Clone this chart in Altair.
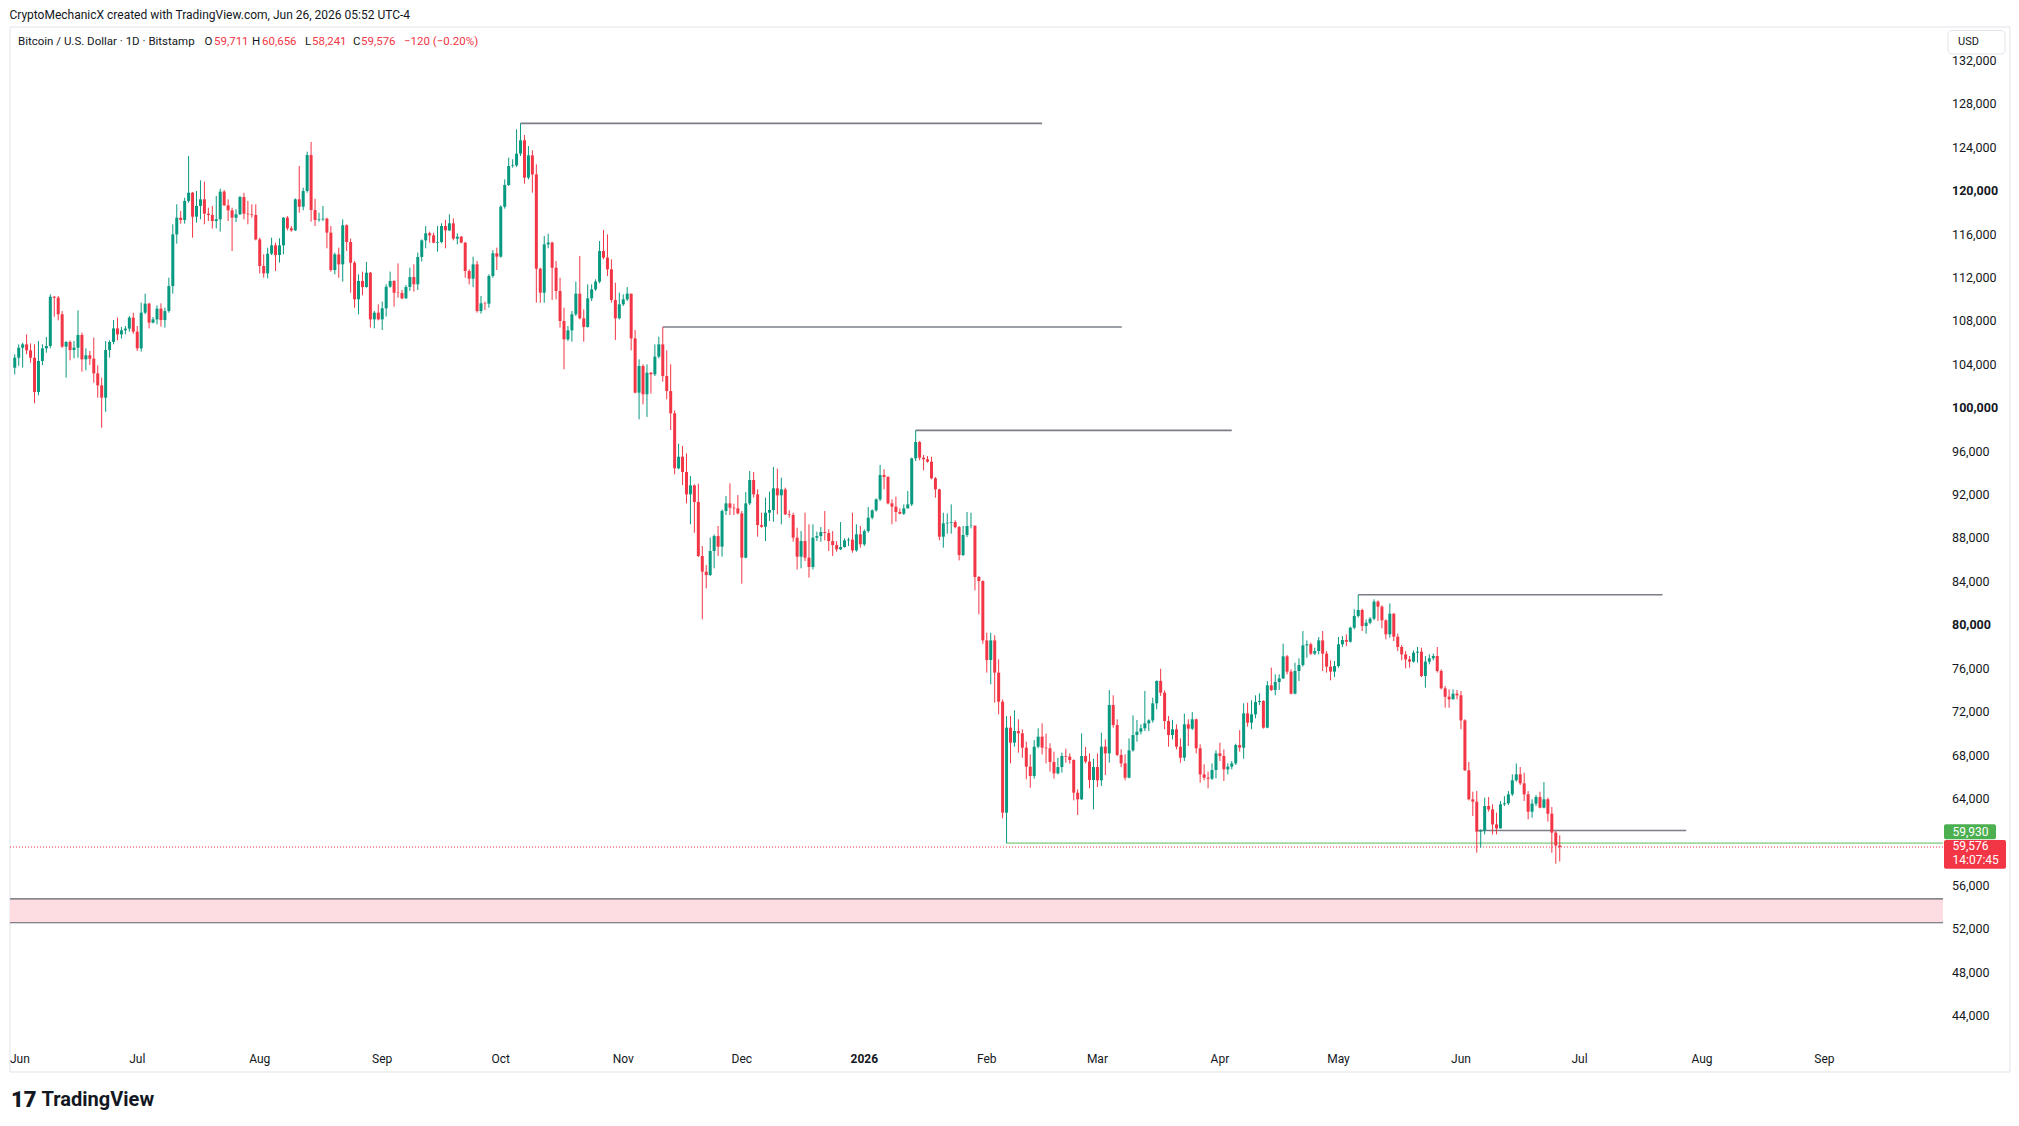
import altair as alt
import pandas as pd

# ---------------- data ----------------
START_DATE = "2025-05-31"
FIRST_OPEN = 103730

CLOSE = [
    104650, 105570, 105880, 105330, 104650, 101490, 104350, 105510, 105730, 110270,
    110180, 108650, 105670, 106100, 105360, 105570, 106740, 104500, 104870, 104560,
    103210, 102100, 100970, 105360, 106100, 107350, 106800, 107170, 107330, 108340,
    107050, 105510, 108800, 109630, 107880, 108180, 109170, 108120, 108950, 111250,
    116010, 117550, 117340, 119090, 119850, 117640, 118630, 119240, 117920, 117800,
    117240, 117400, 119950, 118690, 118230, 117550, 117860, 119450, 117920, 117860,
    117800, 115550, 113100, 112420, 114230, 115000, 114110, 115000, 117550, 116570,
    116380, 119240, 118560, 120010, 123320, 118260, 117340, 117400, 117460, 116170,
    112730, 114170, 113250, 116850, 115310, 113400, 110030, 111720, 111160, 112480,
    108180, 108800, 108180, 109200, 111190, 111720, 110640, 110610, 110120, 111160,
    112080, 111410, 113930, 115460, 116110, 115920, 115250, 115310, 116780, 116380,
    117030, 115620, 115800, 115250, 112640, 111930, 113250, 108950, 109660, 109630,
    112180, 114270, 113960, 118560, 120560, 122310, 122370, 123450, 124680, 121240,
    123290, 121540, 112850, 110640, 115090, 115250, 112940, 110800, 108030, 106340,
    107170, 108650, 110550, 108280, 107480, 110120, 110950, 111660, 114480, 113870,
    112790, 109970, 108280, 109570, 110030, 110550, 106430, 101430, 103890, 101280,
    103270, 103120, 104750, 105880, 102960, 101580, 99530, 94460, 95530, 94120,
    92060, 92890, 91360, 86380, 84940, 84630, 86840, 88220, 87240, 90530,
    91230, 90830, 90770, 90310, 86230, 91230, 93380, 92060, 89240, 89080,
    90370, 90620, 92620, 91970, 92520, 90220, 90160, 88070, 86320, 87760,
    86230, 85370, 88070, 88220, 88590, 88500, 87760, 87390, 87000, 87210,
    87820, 87890, 86900, 88380, 87460, 88680, 89910, 90590, 91600, 93840,
    93660, 91230, 90930, 90440, 90280, 90770, 91140, 95380, 96880, 95440,
    95290, 95070, 93540, 92520, 88160, 89390, 89450, 89510, 89050, 86470,
    88320, 89150, 89180, 84450, 84080, 78610, 76800, 78610, 75640, 72960,
    62740, 70570, 69190, 70260, 70050, 68730, 66980, 66120, 68820, 69740,
    68730, 68670, 67410, 66360, 66940, 67960, 67900, 67590, 64580, 63970,
    67960, 67440, 65750, 66940, 65720, 68820, 68200, 72660, 70810, 68050,
    67280, 65960, 68480, 69890, 70200, 70510, 70970, 71240, 72810, 74870,
    73790, 71180, 69890, 70420, 68820, 67800, 70880, 70480, 71340, 68670,
    66270, 65960, 65870, 66670, 68200, 67960, 66730, 66980, 67280, 68970,
    68730, 71890, 71030, 71800, 72930, 73030, 70570, 74470, 74040, 74780,
    75110, 77140, 75730, 73700, 75790, 76340, 78150, 78250, 77390, 77630,
    78610, 77390, 76190, 75730, 76250, 78250, 78640, 78490, 79780, 80860,
    81410, 79930, 80240, 80610, 82180, 81720, 80460, 79170, 81070, 78950,
    78000, 77320, 76860, 76650, 77480, 77570, 75330, 76650, 76960, 77170,
    75790, 74190, 73420, 73180, 73700, 73550, 71240, 66640, 63970, 63750,
    60990, 61050, 63350, 63040, 61660, 61290, 63510, 63600, 64430, 65720,
    66270, 65440, 64430, 62830, 63570, 64180, 63200, 63970, 62640, 60900,
    59711, 59576,
]

HIGH = [
    104960, 105880, 106030, 106800, 105970, 105880, 106190, 105880, 106560, 110490,
    110330, 110330, 108950, 106190, 106250, 106190, 109010, 106960, 105510, 105270,
    106500, 103950, 102810, 106190, 106250, 108120, 108340, 107480, 107570, 108490,
    108800, 107570, 109720, 110550, 109720, 108400, 109470, 109660, 109260, 112020,
    116940, 118780, 118170, 119390, 123230, 119920, 120010, 120990, 120870, 118470,
    118630, 119550, 120220, 120100, 119240, 118470, 118320, 119550, 119850, 119090,
    118780, 118780, 115710, 114170, 114790, 115710, 115250, 115650, 117610, 117700,
    116780, 119330, 122310, 120320, 123630, 124520, 119300, 118010, 118630, 117550,
    116780, 114330, 114790, 117400, 116940, 115620, 113560, 112330, 112580, 113470,
    112550, 108950, 109570, 109810, 111410, 112580, 111780, 113340, 110890, 111350,
    112940, 113250, 114330, 115550, 116780, 116260, 116170, 116780, 117030, 117340,
    117860, 117490, 116110, 115860, 115310, 112790, 113960, 113560, 110330, 109810,
    112330, 114570, 114790, 118690, 121080, 123080, 122930, 125690, 126240, 125170,
    124150, 123750, 122460, 112940, 115860, 116080, 115340, 113560, 112020, 109260,
    107570, 108950, 111660, 114020, 109100, 111410, 111410, 111870, 115400, 116410,
    116010, 113710, 111560, 110640, 110490, 111160, 110550, 107200, 104500, 104040,
    104040, 103330, 105880, 106590, 107480, 105330, 104040, 99800, 96730, 96520,
    95840, 93750, 92980, 93050, 87300, 85550, 88070, 88380, 89150, 90680,
    91910, 93080, 91200, 92000, 90530, 92280, 94210, 94120, 92520, 90370,
    91760, 92310, 94580, 94430, 93600, 92680, 90590, 90370, 88990, 88680,
    90370, 89300, 89300, 88620, 89050, 90530, 88840, 88680, 87760, 89510,
    88010, 88070, 90370, 89300, 89150, 88840, 90900, 90680, 91690, 94770,
    94370, 93750, 91600, 91850, 90770, 91140, 92370, 95440, 97960, 96980,
    95690, 95590, 95530, 93660, 92580, 90370, 90310, 91140, 89670, 89150,
    89150, 90430, 90370, 89180, 84540, 84140, 79320, 79320, 79080, 76860,
    73180, 71640, 71640, 72170, 71340, 70420, 69280, 68110, 69430, 70510,
    70970, 70020, 69130, 68360, 67800, 68270, 68630, 68200, 67650, 64890,
    70050, 68790, 68200, 67710, 68200, 70110, 69490, 74040, 73550, 71340,
    68570, 68110, 69590, 71700, 71280, 70880, 73950, 71340, 73330, 74930,
    76000, 74010, 71640, 71280, 70880, 69590, 71860, 71340, 72010, 71400,
    69030, 67190, 66520, 67280, 68480, 69190, 68570, 67280, 67500, 69090,
    70350, 72810, 72870, 73090, 73550, 73730, 73090, 74870, 76100, 75480,
    75480, 78310, 77260, 75940, 76560, 76960, 79470, 78610, 78400, 77940,
    78920, 79470, 77630, 76770, 76710, 78920, 79010, 79170, 79870, 81470,
    82820, 81530, 80550, 80760, 82390, 82300, 81840, 80550, 82020, 81100,
    79230, 78180, 77630, 77170, 77690, 78000, 77940, 77170, 77320, 77390,
    78000, 75940, 74410, 74100, 74100, 74040, 73950, 71340, 67410, 64670,
    64730, 61200, 64120, 64180, 63510, 62740, 63810, 64270, 64730, 66270,
    67280, 66940, 66420, 64730, 63970, 64370, 64670, 65560, 64120, 63260,
    61050, 60656,
]

LOW = [
    103120, 103890, 103730, 104960, 104190, 100450, 101180, 103980, 105110, 105510,
    108430, 108090, 105570, 102810, 104410, 104590, 104650, 103360, 103490, 103980,
    102350, 100970, 98200, 99680, 104650, 105880, 106250, 106400, 106800, 107050,
    106860, 105270, 105210, 108650, 107350, 107820, 107720, 107510, 107420, 108800,
    110550, 115160, 117000, 117000, 118930, 115710, 117090, 117400, 116940, 117240,
    116540, 116570, 116260, 118630, 117240, 114480, 117150, 117800, 117400, 116940,
    117550, 115460, 112420, 112020, 111960, 114110, 112640, 113410, 114170, 116380,
    116260, 116320, 118010, 118230, 119850, 117180, 116780, 117180, 117240, 114730,
    112580, 112330, 112020, 111660, 114480, 110640, 109260, 108650, 110400, 111100,
    107420, 107350, 108090, 107200, 108430, 111100, 109350, 110180, 110030, 110090,
    110800, 110730, 110890, 113500, 114730, 115250, 115190, 114420, 115190, 114730,
    116320, 115460, 115090, 115190, 112020, 111410, 111160, 108800, 108710, 109040,
    109260, 112020, 112730, 113870, 118380, 120470, 122160, 122220, 123230, 120680,
    121080, 119850, 109720, 109720, 109720, 114730, 109970, 110030, 107420, 103580,
    106190, 106130, 108490, 108180, 106130, 107420, 109870, 110800, 111500, 113720,
    112180, 109720, 106280, 108180, 109410, 109870, 105330, 101370, 98970, 100350,
    99190, 101340, 102960, 104590, 102440, 100820, 97990, 93910, 94370, 92920,
    91230, 89300, 88530, 86290, 80550, 83400, 84540, 85250, 86380, 86320,
    90160, 90160, 90160, 90220, 83830, 86170, 91080, 91760, 88160, 88990,
    87760, 89610, 89540, 90220, 89300, 90160, 89910, 87700, 85150, 85250,
    85920, 84390, 85150, 87760, 87700, 87820, 86840, 86380, 86780, 86930,
    87150, 87300, 86690, 86780, 87150, 87300, 88530, 89760, 90470, 91450,
    92520, 91140, 89300, 89540, 90220, 90160, 90770, 90990, 95130, 95200,
    94270, 94980, 93450, 91760, 87820, 87150, 88440, 88440, 88930, 85980,
    86380, 88130, 88930, 83220, 81010, 78300, 75640, 74560, 72870, 71800,
    62220, 59930, 67280, 68820, 68270, 67800, 65810, 65040, 65870, 68670,
    68110, 67280, 66520, 65870, 66270, 66420, 67340, 67250, 63870, 62520,
    63910, 67280, 64980, 63040, 65100, 65190, 66210, 67340, 70570, 67960,
    66940, 65720, 65900, 68360, 69280, 69950, 70260, 70260, 71030, 72260,
    73490, 70420, 68820, 69490, 68570, 67340, 67500, 68880, 70350, 68200,
    65500, 65720, 64980, 65750, 65900, 67500, 65660, 66270, 66730, 67130,
    68360, 67710, 70660, 70420, 71430, 72660, 70480, 70510, 73950, 73550,
    74040, 75050, 75480, 73640, 73640, 74870, 76190, 77020, 77260, 77260,
    77320, 75790, 75640, 74930, 75240, 76100, 78000, 78090, 78400, 79630,
    80700, 79470, 79230, 80090, 80460, 80400, 79720, 78710, 78860, 78550,
    77630, 76770, 76030, 76100, 76560, 76560, 75240, 74250, 76400, 76770,
    75640, 74100, 72410, 72410, 73180, 73180, 70420, 66580, 63870, 62430,
    59050, 59510, 60740, 62830, 60740, 60740, 61290, 63350, 63440, 64270,
    65590, 65290, 63810, 62120, 62280, 63350, 63140, 63140, 61910, 59050,
    58040, 58241,
]

# a 24/7 market: each daily open was read to sit at the previous close
OPEN = [FIRST_OPEN] + CLOSE[:-1]

# drawn resistance levels (start date, end date, price)
LEVEL_START = ["2025-10-06", "2025-11-11", "2026-01-14", "2026-05-06", "2026-06-05"]
LEVEL_END = ["2026-02-15", "2026-03-07T04:00:00Z", "2026-04-04", "2026-07-22", "2026-07-28"]
LEVEL_PRICE = [126240, 107480, 97960, 82820, 61100]

SUPPORT_START = "2026-02-06"
SUPPORT_PRICE = 59930
LAST_PRICE = 59576
ZONE_TOP = 54800
ZONE_BOTTOM = 52600

# price-scale tick labels (60,000 is hidden behind the price tags in the original)
Y_TICKS = [44000, 48000, 52000, 56000, 64000, 68000, 72000, 76000, 80000, 84000,
           88000, 92000, 96000, 100000, 104000, 108000, 112000, 116000, 120000,
           124000, 128000, 132000]
# time-scale tick labels
MONTH_TICKS = ["2025-06-01", "2025-07-01", "2025-08-01", "2025-09-01", "2025-10-01",
               "2025-11-01", "2025-12-01", "2026-01-01", "2026-02-01", "2026-03-01",
               "2026-04-01", "2026-05-01", "2026-06-01", "2026-07-01", "2026-08-01",
               "2026-09-01"]
MONTH_LABELS = ["Jun", "Jul", "Aug", "Sep", "Oct", "Nov", "Dec", "2026", "Feb", "Mar",
                "Apr", "May", "Jun", "Jul", "Aug", "Sep"]

HEADER = "CryptoMechanicX created with TradingView.com, Jun 26, 2026 05:52 UTC-4"
LEGEND = [
    ("Bitcoin / U.S. Dollar · 1D · Bitstamp", 8, "dark"),
    ("O", 194.6, "dark"), ("59,711", 204, "red"),
    ("H", 242, "dark"), ("60,656", 252, "red"),
    ("L", 295, "dark"), ("58,241", 302, "red"),
    ("C", 343, "dark"), ("59,576", 351, "red"),
    ("−120 (−0.20%)", 394, "red"),
]

# ---------------- styling ----------------
W, H = 1933, 1019
FONT = "Roboto"
TEXT = "#131722"
UP = "#089981"
DOWN = "#F23645"

dates = pd.date_range(START_DATE, periods=len(CLOSE), freq="D").strftime("%Y-%m-%d")
df = pd.DataFrame({"date": dates, "open": OPEN, "high": HIGH, "low": LOW, "close": CLOSE})
df["hi"] = df[["open", "high", "close"]].max(axis=1)
df["lo"] = df[["open", "low", "close"]].min(axis=1)
df["dir"] = ["up" if c >= o else "down" for o, c in zip(df["open"], df["close"])]

xs = alt.Scale(
    type="utc",
    domain=[alt.DateTime(year=2025, month=5, date=31, hours=1, minutes=30, utc=True),
            alt.DateTime(year=2026, month=9, date=29, hours=17, minutes=30, utc=True)],
    nice=False,
)
ys = alt.Scale(domain=[41245, 135115], nice=False, zero=False)

one = pd.DataFrame({"a": [0]})

frame = alt.Chart(one).mark_rect(filled=False, stroke="#e0e3eb", strokeWidth=1).encode(
    x=alt.value(0), x2=alt.value(W + 67), y=alt.value(0), y2=alt.value(H + 26))

zone = alt.Chart(pd.DataFrame({"top": [ZONE_TOP], "bottom": [ZONE_BOTTOM]})).mark_rect(color="#fddde1").encode(
    x=alt.value(0), x2=alt.value(W),
    y=alt.Y("top:Q", scale=ys, axis=None), y2="bottom:Q")
zone_edges = alt.Chart(pd.DataFrame({"p": [ZONE_TOP, ZONE_BOTTOM]})).mark_rule(color="#5d606b", strokeWidth=1.2).encode(
    x=alt.value(0), x2=alt.value(W), y=alt.Y("p:Q", scale=ys, axis=None))

last_line = alt.Chart(pd.DataFrame({"p": [LAST_PRICE]})).mark_rule(color=DOWN, strokeDash=[1, 2], strokeWidth=1).encode(
    x=alt.value(0), x2=alt.value(W), y=alt.Y("p:Q", scale=ys, axis=None))

support = alt.Chart(pd.DataFrame({"start": [SUPPORT_START], "p": [SUPPORT_PRICE]})).mark_rule(
    color="#9fd8a1", strokeWidth=1.6).encode(
    x=alt.X("start:T", scale=xs, axis=None), x2=alt.value(W), y=alt.Y("p:Q", scale=ys, axis=None))

levels = alt.Chart(pd.DataFrame({"start": LEVEL_START, "end": LEVEL_END, "p": LEVEL_PRICE})).mark_rule(
    color="#7b7e88", strokeWidth=1.6).encode(
    x=alt.X("start:T", scale=xs, axis=None), x2="end:T", y=alt.Y("p:Q", scale=ys, axis=None))

color = alt.Color("dir:N", scale=alt.Scale(domain=["up", "down"], range=[UP, DOWN]), legend=None)
wicks = alt.Chart(df).mark_rule(strokeWidth=1, clip=True).encode(
    x=alt.X("date:T", scale=xs, axis=None),
    y=alt.Y("lo:Q", scale=ys, axis=None),
    y2="hi:Q", color=color)
bodies = alt.Chart(df).mark_bar(size=3, clip=True).encode(
    x=alt.X("date:T", scale=xs, axis=None),
    y=alt.Y("open:Q", scale=ys, axis=None),
    y2="close:Q", color=color)

# ---- price-scale labels (through the y scale) ----
ytick_df = pd.DataFrame({"v": Y_TICKS, "label": [f"{v:,}" for v in Y_TICKS],
                         "bold": [v % 20000 == 0 for v in Y_TICKS]})
ylab_normal = alt.Chart(ytick_df).transform_filter("!datum.bold").mark_text(
    align="left", baseline="middle", fontSize=12.5, font=FONT, color=TEXT).encode(
    x=alt.value(W + 9), y=alt.Y("v:Q", scale=ys, axis=None), text="label:N")
ylab_bold = alt.Chart(ytick_df).transform_filter("datum.bold").mark_text(
    align="left", baseline="middle", fontSize=12.5, font=FONT, color=TEXT, fontWeight="bold").encode(
    x=alt.value(W + 9), y=alt.Y("v:Q", scale=ys, axis=None), text="label:N")

# ---- time-scale labels (through the x scale) ----
xtick_df = pd.DataFrame({"d": MONTH_TICKS, "label": MONTH_LABELS,
                         "bold": [lab.isdigit() for lab in MONTH_LABELS],
                         "first": [i == 0 for i in range(len(MONTH_TICKS))]})
xlab_normal = alt.Chart(xtick_df).transform_filter("!datum.bold && !datum.first").mark_text(
    align="center", baseline="middle", fontSize=12, font=FONT, color=TEXT).encode(
    x=alt.X("d:T", scale=xs, axis=None), y=alt.value(H + 12.5), text="label:N")
xlab_bold = alt.Chart(xtick_df).transform_filter("datum.bold").mark_text(
    align="center", baseline="middle", fontSize=12, font=FONT, color=TEXT, fontWeight="bold").encode(
    x=alt.X("d:T", scale=xs, axis=None), y=alt.value(H + 12.5), text="label:N")
xlab_first = alt.Chart(xtick_df).transform_filter("datum.first").mark_text(
    align="left", baseline="middle", fontSize=12, font=FONT, color=TEXT).encode(
    x=alt.value(0), y=alt.value(H + 12.5), text="label:N")


def price_box(price, top, bottom, right, fill):
    return alt.Chart(pd.DataFrame({"p": [price]})).mark_rect(
        color=fill, cornerRadius=2, yOffset=top, y2Offset=bottom).encode(
        x=alt.value(W + 1), x2=alt.value(right),
        y=alt.Y("p:Q", scale=ys, axis=None), y2="p:Q")


def price_text(price, txt, dy):
    return alt.Chart(pd.DataFrame({"p": [price]})).mark_text(
        align="left", baseline="middle", dy=dy, color="white", fontSize=12, font=FONT, text=txt).encode(
        x=alt.value(W + 9.5), y=alt.Y("p:Q", scale=ys, axis=None))


green_box = price_box(SUPPORT_PRICE, -19, -4, W + 53, "#4caf50")
green_txt = price_text(SUPPORT_PRICE, f"{SUPPORT_PRICE:,}", -11.5)
red_box = price_box(LAST_PRICE, -7, 21.7, W + 63, DOWN)
red_txt = price_text(LAST_PRICE, f"{LAST_PRICE:,}", -1.5)
red_txt2 = price_text(LAST_PRICE, "14:07:45", 13.3)

usd_box = alt.Chart(one).mark_rect(fill="white", stroke="#e0e3eb", strokeWidth=1, cornerRadius=4).encode(
    x=alt.value(W + 5), x2=alt.value(W + 62), y=alt.value(3.5), y2=alt.value(27))
usd_txt = alt.Chart(one).mark_text(align="left", baseline="middle", fontSize=11, font=FONT, color=TEXT,
                                   text="USD").encode(x=alt.value(W + 15), y=alt.value(15))

legend_layers = []
for txt, xpos, kind in LEGEND:
    legend_layers.append(
        alt.Chart(one).mark_text(align="left", baseline="middle", fontSize=11.5, font=FONT,
                                 color=TEXT if kind == "dark" else DOWN, text=txt).encode(
            x=alt.value(xpos), y=alt.value(14.5)))

logo_mark = alt.Chart(one).mark_text(align="left", baseline="middle", fontSize=22, fontWeight=900,
                                     font=FONT, color=TEXT, text="17").encode(
    x=alt.value(1), y=alt.value(H + 53.6))
logo_txt = alt.Chart(one).mark_text(align="left", baseline="middle", fontSize=20, fontWeight="bold",
                                    font=FONT, color=TEXT, text="TradingView").encode(
    x=alt.value(31.6), y=alt.value(H + 53.6))

chart = alt.layer(
    frame, zone, zone_edges, last_line, support, levels, wicks, bodies,
    ylab_normal, ylab_bold, xlab_normal, xlab_bold, xlab_first,
    green_box, green_txt, red_box, red_txt, red_txt2, usd_box, usd_txt,
    *legend_layers, logo_mark, logo_txt,
).properties(
    width=W, height=H,
    background="white",
    title=alt.TitleParams(HEADER, anchor="start", fontSize=12, fontWeight="normal",
                          color=TEXT, font=FONT, offset=5),
    padding={"left": 1, "top": 0, "right": 0, "bottom": 4},
).configure_view(strokeWidth=0)

chart.save("out.html", embed_options={"renderer": "svg", "actions": False})
